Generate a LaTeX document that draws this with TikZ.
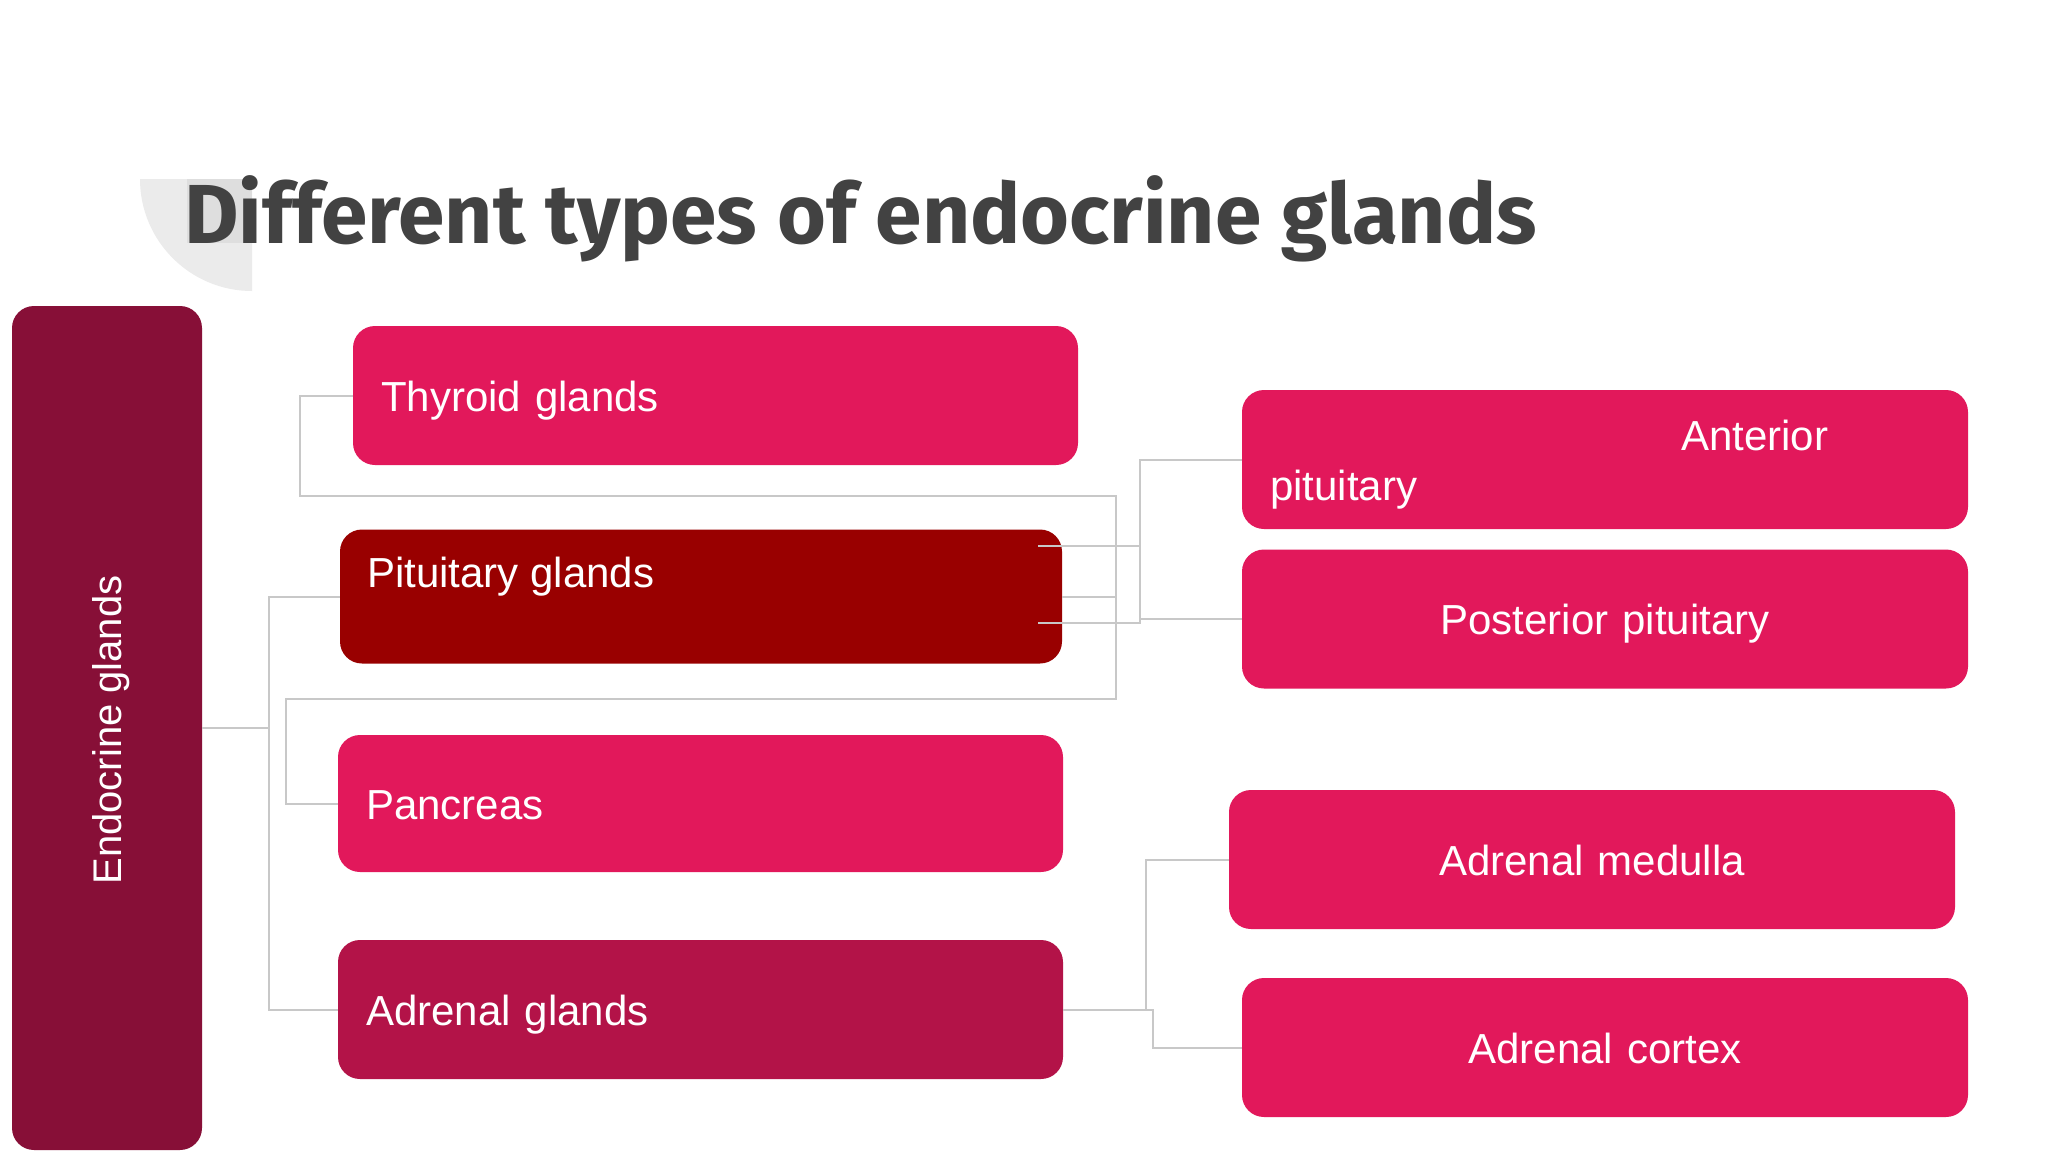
\documentclass[tikz,border=0pt]{standalone}
\usepackage{fontspec}
\setmainfont{Liberation Sans}
\newfontfamily\titlefont{Fira Sans}
\newcommand\bodyfs{\fontsize{42}{50}\selectfont}
\newcommand\rootfs{\fontsize{40}{46}\selectfont}
\definecolor{endocol}{HTML}{870F37}
\definecolor{pinkbox}{HTML}{E2185B}
\definecolor{pitred}{HTML}{990000}
\definecolor{adgcol}{HTML}{B31348}
\definecolor{linegray}{HTML}{C8C8C8}
\definecolor{titlegray}{HTML}{424242}
\definecolor{quartergray}{HTML}{EBEBEB}
\definecolor{quarterdark}{HTML}{DEDEDE}
\begin{document}
\begin{tikzpicture}[x=1pt,y=-1pt,
  conn/.style={draw=linegray, line width=2pt},
  box/.style={rectangle, rounded corners=22pt, inner sep=0pt, minimum height=139pt, text=white, font=\bodyfs},
  txtbox/.style={box, text height=40pt, text depth=9pt},
  leftbox/.style={txtbox, minimum width=725pt, text width=669pt, align=left},
  rightbox/.style={txtbox, fill=pinkbox, minimum width=726pt, text width=670pt, align=center},
  lbl/.style={text=white, font=\bodyfs, inner sep=0pt}
]
\fill[white] (0,0) rectangle (2048,1152);
\useasboundingbox (0,0) rectangle (2048,1152);
% decorative quarter disc
\fill[quartergray] (252,179) -- (252,291) arc[start angle=90,end angle=180,radius=112] -- cycle;
\fill[quarterdark] (187,179) rectangle (252,243);
% title
\node[anchor=base west, inner sep=0pt, text=titlegray] (title) at (184,243)
  {\resizebox{1352pt}{!}{\titlefont\bfseries Different types of endocrine glands}};
% root
\node[box, fill=endocol, minimum width=190pt, minimum height=844pt] (endo) at (107,728) {};
\node[lbl, rotate=90, font=\rootfs] (endotext) at (111,730) {Endocrine glands};
% first level
\node[leftbox, fill=pinkbox] (thy) at (715.5,395.5) {Thyroid glands};
\node[box, fill=pitred, minimum width=722pt, minimum height=134pt] (pit) at (701,596.5) {};
\node[lbl, anchor=base west] (pittext) at (367,587) {Pituitary glands};
\node[leftbox, fill=pinkbox, minimum height=137pt] (pan) at (700.5,803.5) {Pancreas};
\node[leftbox, fill=adgcol] (adg) at (700.5,1009.5) {Adrenal glands};
% second level
\node[box, fill=pinkbox, minimum width=726pt] (ant) at (1605,459.5) {};
\node[lbl, anchor=north west, text width=670pt, align=left] (anttext) at (1270,420)
  {\hspace*{411pt}Anterior\\pituitary};
\node[rightbox] (post) at (1605,619) {Posterior pituitary};
\node[rightbox] (med) at (1592,859.5) {Adrenal medulla};
\node[rightbox] (cor) at (1605,1047.5) {Adrenal cortex};
% connectors
\draw[conn] (endo.east) -- (269,728) |- (pit.west);
\draw[conn] (269,728) |- (adg.west);
\draw[conn] (thy.west) -| (300,496) -- (1116,496) |- (286,699) |- (pan.west);
\draw[conn] (pit.east) -- (1116,596.5);
\draw[conn] (1038,546) -- (1140,546);
\draw[conn] (ant.west) -| (1140,623) -- (1038,623);
\draw[conn] (post.west) -- (1140,619);
\draw[conn] (adg.east) -- (1153,1009.5) |- (cor.west);
\draw[conn] (1146,1009.5) |- (med.west);
\end{tikzpicture}
\end{document}
